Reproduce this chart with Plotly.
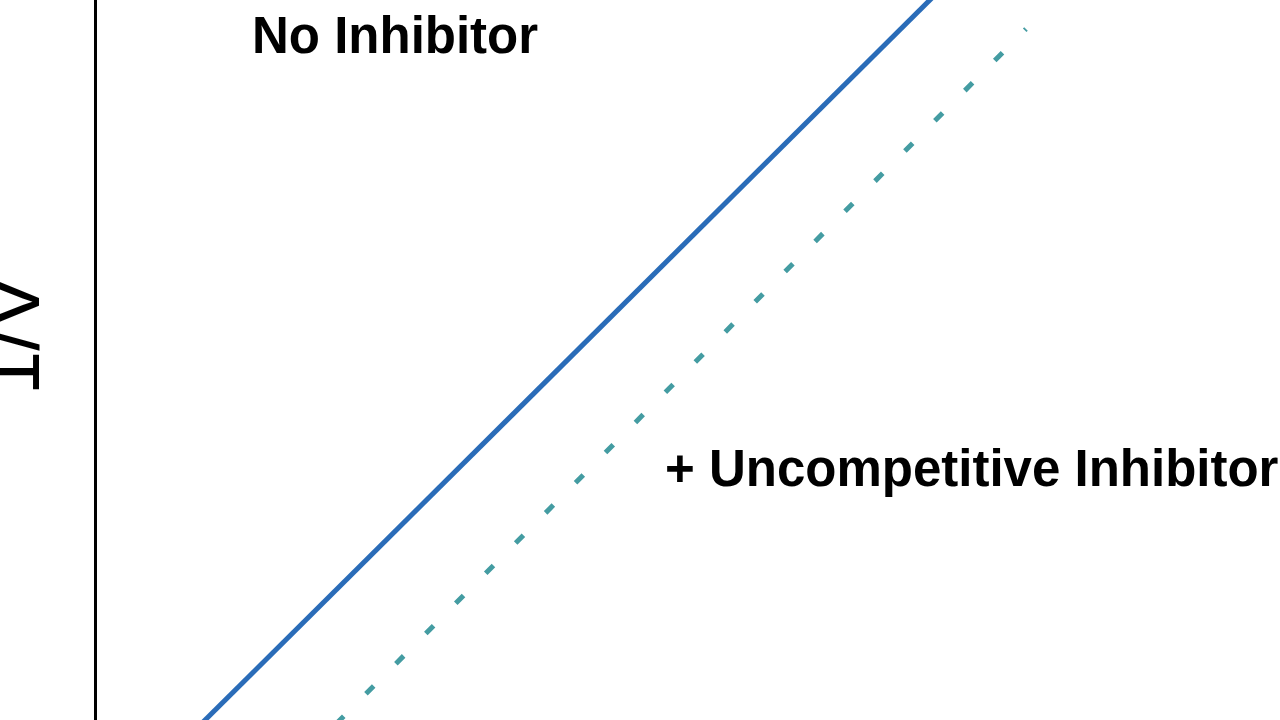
import plotly.graph_objects as go

# Lineweaver-Burk sketch: 1/[S] on x, 1/V on y (arbitrary units)
inv_s_none = [0.9, 8.5]
inv_v_none = [-0.18, 7.37]

inv_s_uncomp = [2.39, 9.29]
inv_v_uncomp = [-0.04, 6.91]

label_none = "No Inhibitor"
label_uncomp = "+ Uncompetitive Inhibitor"
y_title = "1/V"

fig = go.Figure()
fig.add_trace(go.Scatter(
    x=inv_s_none, y=inv_v_none, mode="lines",
    line=dict(color="#2a6cb8", width=5),
    name=label_none,
))
fig.add_trace(go.Scatter(
    x=inv_s_uncomp, y=inv_v_uncomp, mode="lines",
    line=dict(color="#449ca2", width=5, dash="11px,31.5px"),
    name=label_uncomp,
))

fig.add_annotation(
    x=1.53, y=6.85, xref="x", yref="y", text=label_none,
    showarrow=False, xanchor="left", yanchor="middle",
    font=dict(family="Liberation Sans", size=51, color="black", weight="bold"),
)
fig.add_annotation(
    x=5.66, y=2.52, xref="x", yref="y", text=label_uncomp,
    showarrow=False, xanchor="left", yanchor="middle",
    font=dict(family="Liberation Sans", size=51, color="black", weight="bold"),
)
fig.add_annotation(
    x=-0.033, y=0.535, xref="paper", yref="paper", text=y_title,
    showarrow=False, xanchor="right", yanchor="middle", textangle=-90,
    font=dict(family="Liberation Sans", size=80, color="black"),
)

fig.update_layout(
    width=1280, height=720,
    showlegend=False,
    plot_bgcolor="white", paper_bgcolor="white",
    margin=dict(l=97, r=0, t=0, b=0, autoexpand=False),
    xaxis=dict(range=[0, 11.83], showgrid=False, zeroline=False,
               showticklabels=False, ticks="", showline=False),
    yaxis=dict(range=[0, 7.2], showgrid=False, zeroline=False,
               showticklabels=False, ticks="", showline=True,
               linecolor="black", linewidth=3, mirror=False),
)

fig.write_html(
    "out.html",
    config={"displayModeBar": False},
    post_script="document.body.style.margin='0';",
)
